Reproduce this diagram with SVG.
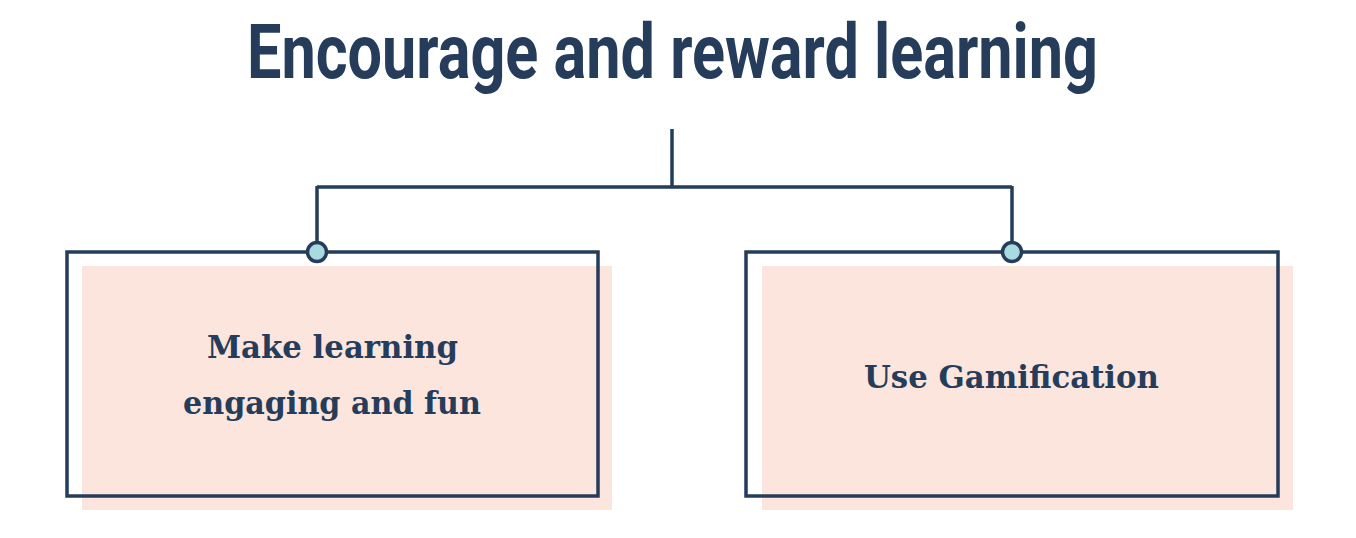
<svg xmlns="http://www.w3.org/2000/svg" width="1356" height="538" viewBox="0 0 1356 538">
<style>
.title{font-family:"Roboto","Liberation Sans",sans-serif;font-weight:700;font-size:76px;fill:#253d5b}
.lbl{font-family:"DejaVu Serif","Liberation Serif",serif;font-weight:700;font-size:31px;fill:#253d5b}
.box{fill:none;stroke:#253d5b;stroke-width:3.5}
.shade{fill:#fbe5dd}
.dot{fill:#a8dadf;stroke:#253d5b;stroke-width:3.5}
.wire{fill:none;stroke:#253d5b;stroke-width:3.5}
</style>
<rect width="1356" height="538" fill="#ffffff"/>
<text id="title" class="title" x="672.5" y="78" text-anchor="middle" textLength="851" lengthAdjust="spacingAndGlyphs">Encourage and reward learning</text>
<g id="connectors">
<path class="wire" d="M672 129 V187 M317 187 H1012 M317 186 V252 M1012 186 V252"/>
</g>
<g id="node1">
<rect class="shade" x="82" y="266" width="530" height="244"/>
<rect class="box" x="67" y="252" width="531" height="244"/>
<circle class="dot" cx="317" cy="252" r="9.5"/>
<text class="lbl" x="332.5" y="358" text-anchor="middle" textLength="251" lengthAdjust="spacingAndGlyphs">Make learning</text>
<text class="lbl" x="332" y="414" text-anchor="middle" textLength="298" lengthAdjust="spacingAndGlyphs">engaging and fun</text>
</g>
<g id="node2">
<rect class="shade" x="762" y="266" width="531" height="244"/>
<rect class="box" x="746" y="252" width="532" height="244"/>
<circle class="dot" cx="1012" cy="252" r="9.5"/>
<text class="lbl" x="1011.5" y="388" text-anchor="middle" textLength="295" lengthAdjust="spacingAndGlyphs">Use Gamification</text>
</g>
</svg>
